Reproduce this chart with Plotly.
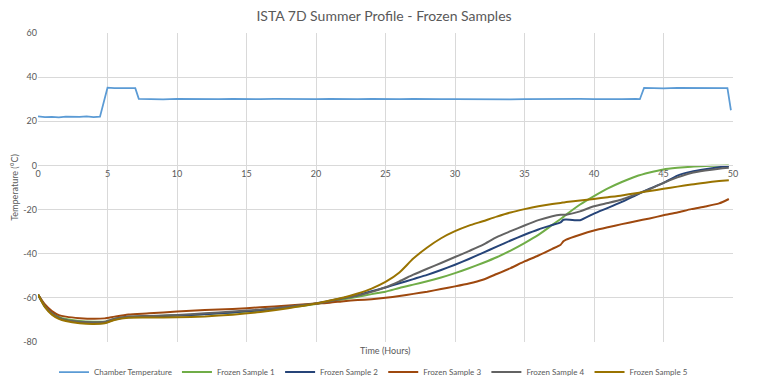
import plotly.graph_objects as go

# ---------------- data ----------------
chamber_time = [0, 0.5, 1, 1.5, 2, 2.5, 3, 3.5, 4, 4.46, 5.0, 5.5, 6, 6.5, 7.0, 7.25,
                8, 9, 10, 11, 12, 13, 14, 15, 16, 17, 18, 19, 20, 21, 22, 23, 24, 25,
                26, 27, 28, 29, 30, 31, 32, 33, 34, 35, 36, 37, 38, 39, 40, 41, 42, 43,
                43.3, 43.6, 44, 45, 46, 47, 48, 49, 49.6, 49.85]
chamber_temp = [22.2, 21.9, 22.0, 21.8, 22.1, 21.9, 22.0, 22.2, 21.9, 22.1, 35.2, 35.0, 35.1, 34.9, 35.0, 30.2,
                30.0, 29.9, 30.1, 30.0, 29.9, 30.0, 30.1, 29.9, 30.0, 30.1, 30.0, 29.9, 30.0, 30.1, 29.9, 30.0, 30.1, 29.9,
                30.0, 30.1, 29.9, 30.0, 30.0, 29.9, 30.1, 30.0, 29.9, 30.0, 30.1, 29.9, 30.0, 30.1, 30.0, 29.9, 30.0, 30.1,
                30.0, 35.1, 35.0, 34.9, 35.1, 35.0, 34.9, 35.1, 35.0, 25.0]

time_h = [0, 0.5, 1, 1.5, 2, 3, 4, 4.8, 5.5, 6.5, 8, 10, 12, 14, 16, 18, 20, 21, 22, 23, 24,
          25, 26, 27, 28, 29, 30, 31, 32, 33, 34, 35, 36, 37, 37.6, 37.8, 38, 39, 40, 41, 42,
          43, 44, 45, 46, 47, 48, 49, 49.7]

sample1 = [-58.5, -63.5, -66.8, -68.6, -69.6, -70.5, -70.8, -70.8, -69.5, -68.6, -68.4, -67.9, -67.3,
           -66.6, -65.7, -64.4, -62.8, -61.8, -60.6, -59.5, -58.3, -57.2, -55.5, -54.0, -52.5, -50.8,
           -48.8, -46.6, -44.2, -41.6, -38.6, -35.2, -31.5, -27.0, -24.3, -23.3, -22.3, -17.7, -13.9,
           -10.4, -7.5, -5.0, -3.2, -1.8, -1.1, -0.6, -0.3, -0.1, 0.0]
sample2 = [-58.5, -64.0, -67.3, -69.2, -70.2, -71.2, -71.5, -71.3, -69.8, -68.8, -68.4, -68.0, -67.4,
           -66.6, -65.6, -64.2, -62.5, -61.3, -60.0, -58.8, -57.0, -55.3, -53.4, -51.5, -49.6, -47.4,
           -45.0, -42.4, -39.6, -36.8, -34.0, -31.4, -29.0, -27.0, -25.8, -24.6, -24.5, -24.8, -21.8,
           -19.2, -16.5, -13.5, -10.5, -7.9, -4.6, -2.8, -1.7, -0.8, -0.3]
sample3 = [-58.5, -63.0, -66.0, -67.8, -68.5, -69.2, -69.5, -69.3, -68.5, -67.5, -67.0, -66.2, -65.5,
           -65.0, -64.3, -63.5, -62.6, -62.2, -61.5, -61.0, -60.6, -60.0, -59.2, -58.2, -57.2, -56.0,
           -54.8, -53.5, -51.8, -49.2, -46.5, -43.5, -40.8, -37.8, -35.9, -34.4, -33.6, -31.4, -29.5,
           -28.0, -26.6, -25.3, -24.0, -22.6, -21.3, -19.8, -18.6, -17.2, -15.2]
sample4 = [-58.5, -63.8, -67.0, -69.0, -70.0, -70.8, -71.0, -70.8, -69.5, -68.5, -68.2, -67.8, -67.0,
           -66.2, -65.3, -64.0, -62.6, -61.5, -60.2, -58.9, -57.3, -55.2, -52.5, -49.5, -46.8, -44.2,
           -41.5, -38.8, -36.0, -32.5, -29.8, -27.2, -24.8, -23.0, -22.4, -22.4, -22.3, -20.8, -18.5,
           -17.0, -15.4, -13.2, -10.8, -7.9, -5.4, -3.4, -2.3, -1.5, -1.1]
sample5 = [-58.5, -64.2, -67.6, -69.5, -70.5, -71.5, -71.8, -71.5, -70.0, -69.0, -68.9, -68.8, -68.4,
           -67.6, -66.4, -64.7, -62.6, -61.2, -59.8, -58.0, -55.8, -52.8, -48.5, -42.2, -37.2, -33.0,
           -29.8, -27.3, -25.3, -23.2, -21.3, -19.8, -18.5, -17.5, -17.0, -16.8, -16.6, -15.9, -15.2,
           -14.4, -13.6, -12.6, -11.6, -10.6, -9.6, -8.6, -7.8, -7.1, -6.7]

series_names = ["Chamber Temperature", "Frozen Sample 1", "Frozen Sample 2",
                "Frozen Sample 3", "Frozen Sample 4", "Frozen Sample 5"]
series_colors = ["#5B9BD5", "#70AD47", "#264478", "#9E480E", "#636363", "#997300"]

x_ticks = [0, 5, 10, 15, 20, 25, 30, 35, 40, 45, 50]
y_ticks = [60, 40, 20, 0, -20, -40, -60, -80]
y_tick_labels = ["60", "40", "20", "0", "-20", "-40", "-60", "-80"]
y_min, y_max = -80, 60

# ---------------- figure ----------------
fig = go.Figure()
fig.add_trace(go.Scatter(x=chamber_time, y=chamber_temp, mode="lines", name=series_names[0],
                         line=dict(color=series_colors[0], width=1.75)))
for name, color, vals in zip(series_names[1:], series_colors[1:],
                             [sample1, sample2, sample3, sample4, sample5]):
    fig.add_trace(go.Scatter(x=time_h, y=vals, mode="lines", name=name,
                             line=dict(color=color, width=2, shape="spline", smoothing=0.6)))

font_family = "Lato, Open Sans, sans-serif"
grid = "#D9D9D9"
txt = "#595959"

W, H = 760, 380  # page body adds an 8 px offset in the 768x388 window

fig.update_layout(
    width=W, height=H,
    margin=dict(l=30, r=35, t=25, b=46, autoexpand=False),
    paper_bgcolor="white", plot_bgcolor="white",
    font=dict(family=font_family, size=10, color=txt),
    title=dict(text="ISTA 7D Summer Profile - Frozen Samples", xref="container", yref="container",
               x=376 / W, xanchor="center", y=1 - 8 / H, yanchor="middle",
               font=dict(size=14, color=txt)),
    showlegend=True,
    legend=dict(orientation="h", xref="container", yref="container",
                x=365.5 / W, xanchor="center", y=1 - 364 / H, yanchor="middle",
                font=dict(size=8, color=txt), itemwidth=30, tracegroupgap=0),
    xaxis=dict(range=[0, 50], tickvals=x_ticks, showgrid=True, gridcolor=grid, gridwidth=1,
               anchor="free", position=(0 - y_min) / (y_max - y_min),
               showline=True, linecolor=grid, linewidth=1, ticks="", zeroline=False,
               tickfont=dict(size=9, color=txt), automargin=False),
    yaxis=dict(range=[y_min, y_max], tickvals=y_ticks, ticktext=y_tick_labels, showgrid=True,
               gridcolor=grid, gridwidth=1, zeroline=False, showline=False, ticks="",
               tickfont=dict(size=9, color=txt), automargin=False,
               title=dict(text="Temperature (°C)", font=dict(size=9, color=txt), standoff=3)),
    annotations=[dict(text="Time (Hours)", x=0.5, y=-0.026, xref="paper", yref="paper",
                      xanchor="center", yanchor="middle", showarrow=False,
                      font=dict(size=9, color=txt))],
)

fig.write_html("out.html")
